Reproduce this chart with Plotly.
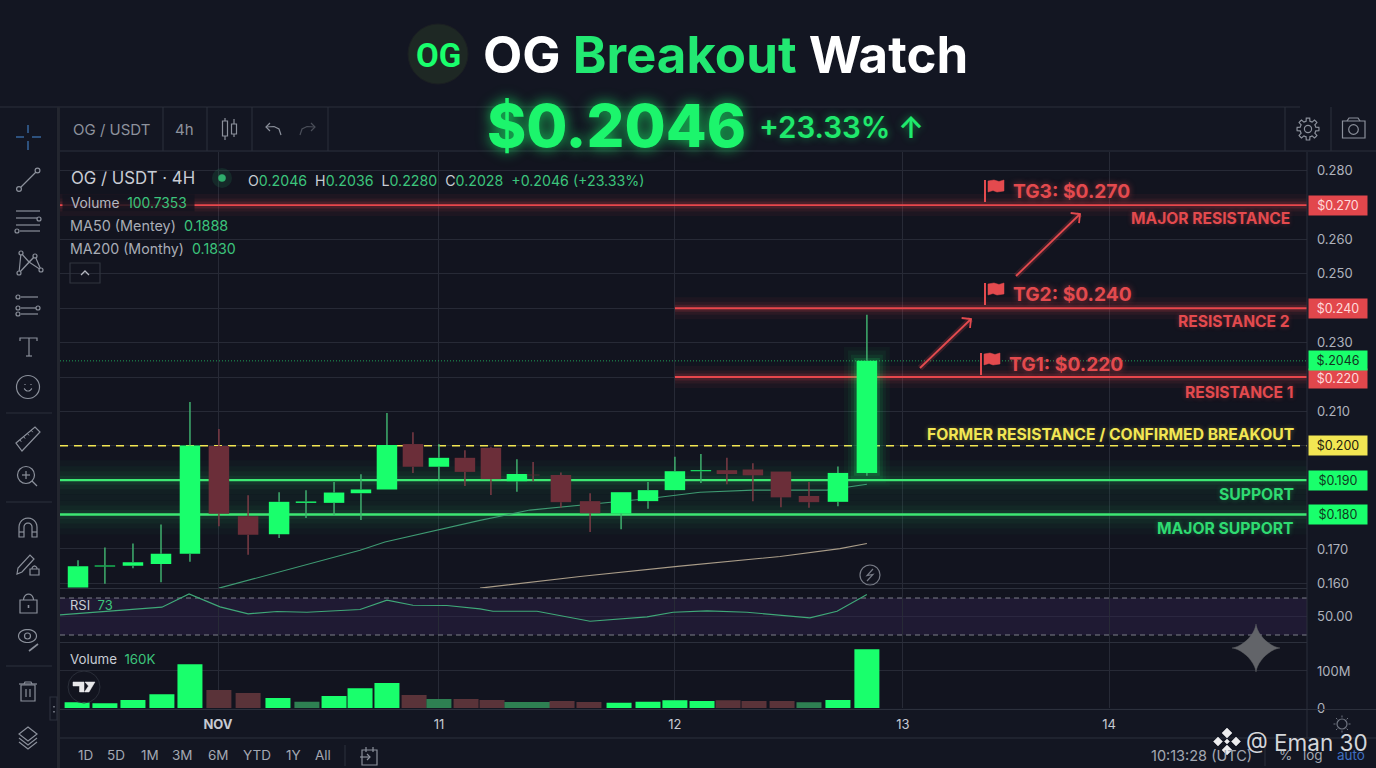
import math
import plotly.graph_objects as go

# ---------- data ----------
candle_time = [-.614,-.496,-.373,-.250,-.123,.004,.132,.268,.386,.509,.627,.741,.855,.969,1.083,1.197,1.311,1.382,1.504,1.632,1.768,1.886,2.004,2.118,2.232,2.346,2.469,2.592,2.719,2.846]
candle_open = [.15875,.1649,.1651,.1656,.1686,.1999,.1795,.1743,.1834,.1834,.1862,.1873,.2005,.1939,.1965,.1994,.1897,.1916,.1915,.1839,.1803,.1839,.1871,.1926,.1929,.1931,.1925,.1854,.1837,.1921]
candle_close = [.16495,.1652,.1661,.1686,.2001,.1802,.1741,.1837,.1838,.1864,.1873,.2002,.1939,.1965,.1924,.1903,.1918,.1914,.1836,.1804,.1865,.1871,.1926,.1929,.1918,.1914,.1850,.1836,.1921,.2247]
candle_high = [.1667,.1704,.1716,.1771,.2127,.2049,.1856,.1865,.1871,.1895,.1917,.2095,.2039,.2005,.1987,.1997,.1961,.1953,.1922,.1862,.1865,.1895,.1968,.1976,.1965,.1949,.1925,.1895,.1940,.2381]
candle_low = [.15875,.1599,.1644,.1603,.1663,.1766,.1683,.1732,.1790,.1798,.1784,.1873,.1921,.1898,.1883,.1857,.1866,.1897,.1820,.1749,.1757,.1817,.1871,.1892,.1888,.1839,.1821,.1820,.1824,.1913]

ma50_time = [.004,.623,.732,1.149,1.368,1.632,1.882,2.114,2.346,2.671,2.846]
ma50_value = [.1586,.1696,.1720,.1783,.1813,.1829,.1846,.1865,.1871,.1871,.1888]
ma200_time = [1.149,1.588,2.026,2.465,2.728,2.846]
ma200_value = [.1586,.1620,.1650,.1678,.1701,.1716]

rsi_time = [-.693,-.443,-.246,-.127,.009,.132,.259,.390,.623,.741,.855,1.004,1.149,1.206,1.399,1.632,1.882,1.996,2.145,2.320,2.596,2.715,2.846]
rsi_value = [51.8,56.5,60.1,74.5,60.5,52.9,55.4,54.6,57.6,67.6,62.2,61.9,58.3,55.7,55.7,44.9,49.7,54.6,56.2,54.6,48.6,55.7,73.8]

volume_time = [-.618,-.496,-.373,-.246,-.123,.004,.132,.263,.390,.509,.623,.741,.860,.969,1.088,1.202,1.311,1.412,1.509,1.627,1.759,1.886,2.004,2.123,2.237,2.351,2.474,2.592,2.719,2.846]
volume_m = [15.4,12.7,21.6,37,118,48.6,40.5,27,17,32.4,53.2,67.6,35,24.3,24.3,21.6,16.2,16.2,18.9,16.2,14.3,17,20.8,18.9,20.8,18.9,18.9,15.4,21.6,158.6]
volume_state = list("ggggg" "rrgdg" "ggrdr" "rddrr" "gggg" "rrr" "dgg")[:30]

price_ticks = [.28,.27,.26,.25,.24,.23,.22,.21,.20,.19,.18,.17,.16]
price_tick_text = ["0.280","","0.260","0.250","","0.230","","0.210","","","","0.170","0.160"]
date_ticks = [0,.969,2.004,3.004,3.908]
date_labels = ["<b>NOV</b>","11","12","13","14"]
range_buttons = ["1D","5D","1M","3M","6M","YTD","1Y","All"]

res_levels = [.270,.240,.220]
res_start = [-.693,2.004,2.004]
res_names = ["MAJOR RESISTANCE","RESISTANCE 2","RESISTANCE 1"]
sup_levels = [.190,.180]
sup_names = ["SUPPORT","MAJOR SUPPORT"]
breakout_level = .200
last_level = .2247
targets = ["TG3: $0.270","TG2: $0.240","TG1: $0.220"]

# ---------- palette / page geometry ----------
W, H = 1376, 768
BG = "#131622"; PLOT = "#12141F"; GRID = "#272A36"; FRAME = "#2C303C"; IC = "#8B909B"
GREEN = "#19FF6C"; LINEG = "#3DE873"; TXTG = "#2FDB72"; RED = "#E8474C"; TXTR = "#E34A4E"; REDBODY = "#6B2E39"
YEL = "#F2E653"; FONT = "Inter"
X0 = (60 - 218) / 228; X1 = (1307 - 218) / 228
def price_at(y): return .28 - (y - 170.7) / 3438.5
Px = lambda x: x / W
Py = lambda y: 1 - y / H

shapes, notes = [], []
def path(pts, color=IC, width=1.2, close=False, fill=None, layer="above"):
    d = "M " + " L ".join(f"{Px(x):.5f} {Py(y):.5f}" for x, y in pts) + (" Z" if close else "")
    shapes.append(dict(type="path", path=d, xref="paper", yref="paper", layer=layer,
                       line=dict(color=color, width=width), fillcolor=fill or "rgba(0,0,0,0)"))
def arc(cx, cy, rx, ry=None, a0=0, a1=360, n=36):
    ry = rx if ry is None else ry
    return [(cx + rx * math.cos(math.radians(a0 + (a1 - a0) * i / n)),
             cy + ry * math.sin(math.radians(a0 + (a1 - a0) * i / n))) for i in range(n + 1)]
def ring(cx, cy, r, color=IC, width=1.2, fill=None):
    shapes.append(dict(type="circle", xref="paper", yref="paper", x0=Px(cx - r), x1=Px(cx + r), y0=Py(cy + r), y1=Py(cy - r),
                       line=dict(color=color, width=width), fillcolor=fill or "rgba(0,0,0,0)", layer="above"))
def rect(x0, y0, x1, y1, **k):
    path([(x0, y0), (x1, y0), (x1, y1), (x0, y1)], close=True, **k)
def text(x, y, s, size=13, color="#C8CCD4", anchor="left", weight=None, shadow=None, family=None, bg=None):
    f = dict(family=family or FONT, size=size, color=color)
    if weight: f["weight"] = weight
    if shadow: f["shadow"] = shadow
    a = dict(x=Px(x), y=Py(y), xref="paper", yref="paper", text=s, showarrow=False, xanchor=anchor, yanchor="middle",
             font=f, borderpad=0)
    if bg: a["bgcolor"] = bg
    notes.append(a)

# ---------- traces ----------
fig = go.Figure()
Y_MAIN, Y_TOP = "y", "y4"
def line(x, y, color, width, axis="y", dash=None):
    fig.add_trace(go.Scatter(x=x, y=y, mode="lines", yaxis=axis, xaxis="x", hoverinfo="skip",
                             line=dict(color=color, width=width, dash=dash), connectgaps=False))

# support/resistance levels with soft glows
for lvl in sup_levels:
    for w, a in ((40, .026), (28, .034), (18, .045), (9, .07)):
        line([X0, X1], [lvl, lvl], f"rgba(40,230,110,{a})", w)
for lvl, start in zip(res_levels, res_start):
    for w, a in ((22, .05), (13, .08), (7, .16)):
        line([start, X1], [lvl, lvl], f"rgba(232,71,76,{a})", w)
line([X0, X1], [last_level, last_level], "#1E9E58", 1, dash="1px,2px")
line([X0, X1], [breakout_level, breakout_level], YEL, 1.6, dash="8px,6px")
for lvl in sup_levels:
    line([X0, X1], [lvl, lvl], LINEG, 2.4)
for lvl, start in zip(res_levels, res_start):
    line([start, X1], [lvl, lvl], RED, 1.9)
line(ma50_time, ma50_value, "#3E9A72", 1.1)
line(ma200_time, ma200_value, "#A99C88", 1.1)

# candles drawn on an overlay axis so they sit above the level lines
top = [max(o, c) for o, c in zip(candle_open, candle_close)]
bot = [min(o, c) for o, c in zip(candle_open, candle_close)]
up = [c >= o for o, c in zip(candle_open, candle_close)]
body_w = [(13 if i == 17 else 20.5) / 228 for i in range(len(candle_time))]
for w, a, pad in ((46, .035, .0040), (38, .05, .0030), (32, .08, .0018), (26, .14, .0008)):
    fig.add_trace(go.Bar(x=[candle_time[-1]], base=[bot[-1] - pad], y=[top[-1] - bot[-1] + 2 * pad], width=[w / 228],
                         yaxis=Y_TOP, xaxis="x", marker=dict(color=f"rgba(25,255,108,{a})", line_width=0), hoverinfo="skip"))
fig.add_trace(go.Bar(x=candle_time, base=bot, y=[t - b for t, b in zip(top, bot)], width=body_w, yaxis=Y_TOP, xaxis="x",
                     marker=dict(color=[GREEN if u else REDBODY for u in up], line_width=0), hoverinfo="skip"))
for flag, color in ((True, "#3FAF6E"), (False, "#7C3B45")):
    xs, ys = [], []
    for t, h, l, a, b, u in zip(candle_time, candle_high, candle_low, top, bot, up):
        if u == flag:
            xs += [t, t, None, t, t, None]; ys += [h, a, None, b, l, None]
    line(xs, ys, color, 1.5, axis=Y_TOP)

# RSI
line([X0, X1], [70, 70], "#7C7F89", 1, axis="y2", dash="5px,4px")
line([X0, X1], [30, 30], "#7C7F89", 1, axis="y2", dash="5px,4px")
line(rsi_time, rsi_value, "#3FA878", 1.2, axis="y2")

# volume
vol_color = {"g": GREEN, "r": "#5A3339", "d": "#2E8052"}
fig.add_trace(go.Bar(x=volume_time, y=volume_m, width=[25 / 228] * len(volume_m), yaxis="y3", xaxis="x",
                     marker=dict(color=[vol_color[s] for s in volume_state], line_width=0), hoverinfo="skip"))

# ---------- chrome ----------
shapes.append(dict(type="rect", xref="x", yref="y2", x0=X0, x1=X1, y0=30, y1=70, line_width=0, fillcolor="#1F1A33", layer="below"))
for pts in ([(0, 107), (1300, 107)], [(60, 151), (1376, 151)], [(1307, 152), (1307, 738)], [(60, 588.5), (1307, 588.5)],
            [(60, 642.5), (1307, 642.5)], [(60, 709.5), (1376, 709.5)], [(60, 738), (1376, 738)], [(6, 413), (52, 413)],
            [(6, 502), (52, 502)], [(6, 666), (52, 666)], [(163, 107), (163, 151)], [(207, 107), (207, 151)],
            [(252, 107), (252, 151)], [(328, 107), (328, 151)], [(1285, 107), (1285, 151)], [(1331, 107), (1331, 151)],
            [(345, 745), (345, 766)], [(1265, 745), (1265, 766)]):
    path(pts, FRAME, 1)
path([(58.5, 107), (58.5, 768)], "#23262F", 3)

# header
ring(438, 54, 30, "#1B1F22", 1, "#1E2824")
text(438, 55, "OG", 33, GREEN, "center", 700, family="Roboto")
text(725.5, 54, f'OG <span style="color:#22E872">Breakout</span> Watch', 51, "#FFFFFF", "center", 700)
text(616.5, 125, "$0.2046", 59.5, "#1CF56C", "center", 800, shadow="0 0 14px rgba(25,255,108,.75)")
text(758, 127, "+23.33% ↑", 29.5, "#1FE96C", "left", 600, shadow="0 0 8px rgba(25,255,108,.45)")

# toolbar
text(72, 129, "OG / USDT", 15, "#8D929D")
text(185, 129, "4h", 15, "#8D929D", "center")
for xc, t, b, hi, lo in ((225, 121, 136, 118, 140), (234, 124, 134, 119, 137)):
    rect(xc - 2.5, t, xc + 2.5, b, color=IC)
    path([(xc, hi), (xc, t)]); path([(xc, b), (xc, lo)])
path([(281, 135), (279, 129), (274, 126.5), (266, 127)], IC)
path([(270, 123), (266, 127), (270, 131)], IC)
path([(300, 135), (302, 129), (307, 126.5), (315, 127)], "#4A4E59")
path([(311, 123), (315, 127), (311, 131)], "#4A4E59")
gear = []
for i in range(8):
    a = i * 45
    gear += arc(1308, 129, 11, 11, a - 9, a + 9, 2) + arc(1308, 129, 8, 8, a + 14, a + 31, 2)
path(gear, IC, close=True); ring(1308, 129, 3.6)
rect(1342.5, 121, 1365, 138, color=IC)
path([(1347, 121), (1349, 118), (1358, 118), (1360, 121)]); ring(1353.5, 129.5, 4.8)

# left rail
B = "#3A6CA6"
for seg in ([(28, 125), (28, 133)], [(28, 141), (28, 150)], [(16, 137), (24, 137)], [(32, 137), (41, 137)]):
    path(seg, B, 1.4)
path([(21, 187), (36, 172)]); ring(19, 189, 2.4); ring(37.5, 170.5, 2.4)
for y, x0, x1 in ((211, 16, 40), (218, 16, 37), (225, 16, 40), (231, 20, 40)):
    path([(x0, y), (x1, y)])
ring(39, 219, 2); ring(17, 231, 2)
path([(19, 273), (21, 253), (29, 262), (35, 256), (41, 270), (29, 262), (19, 273), (35, 256)])
for c in ((19, 273), (21, 253), (35, 256), (41, 270)):
    ring(*c, 2, fill=BG)
for y, x0, x1 in ((297, 21, 38), (308, 21, 36), (314, 21, 38)):
    path([(x0, y), (x1, y)])
for c in ((18, 297), (18, 308), (38, 308), (18, 314)):
    ring(*c, 2)
path([(20, 341), (20, 338), (37, 338), (37, 341)]); path([(29, 338), (29, 356)]); path([(26, 356), (32, 356)])
ring(28, 387, 11.5); path(arc(28, 387, 4, 4, 20, 160, 8)); path([(25, 384), (25, 385)]); path([(31, 384), (31, 385)])
path([(16, 443), (35, 427), (40, 432), (22, 451)], close=True)
for i in range(1, 5):
    xa, ya = 16 + 3.8 * i, 443 - 3.2 * i
    path([(xa, ya), (xa + 1.5, ya + 2)], IC, 1)
ring(26, 475, 8.5); path([(32, 481), (37, 486)]); path([(22, 475), (30, 475)]); path([(26, 471), (26, 479)])
path(arc(28, 527, 9, 9, 180, 360, 12) + [(37, 537), (32, 537)] + arc(28, 527, 4, 4, 360, 180, 12) + [(24, 537), (19, 537)], close=True)
path([(19, 532), (24, 532)]); path([(32, 532), (37, 532)])
path([(17, 574), (18, 568), (30, 555), (34, 559), (22, 572)], close=True); rect(30, 569, 39, 575, color=IC)
path(arc(34.5, 569, 2.6, 3, 180, 360, 6))
rect(20, 600, 37, 613, color=IC); path(arc(28.5, 600, 5, 6, 180, 360, 10)); path([(28.5, 605), (28.5, 608)], IC, 1.6)
path(arc(27.5, 636, 9, 6.5), IC); ring(27.5, 636, 3); path([(29, 651), (38, 644)], IC, 1.6)
path([(19, 684), (37, 684)]); path([(24, 684), (25, 682), (31, 682), (32, 684)]); rect(21, 685, 35, 701, color=IC)
path([(26, 689), (26, 697)]); path([(30, 689), (30, 697)])
path([(28, 727), (37, 734), (28, 741), (19, 734)], close=True)
path([(19, 738), (28, 745), (37, 738)]); path([(19, 742), (28, 749), (37, 742)])
# pane handle / TV logo
rect(50, 697, 57, 720, color="#2C303C", fill=BG); path([(54, 706), (54, 707.5)], IC, 1.4); path([(54, 711), (54, 712.5)], IC, 1.4)
ring(84, 687, 16, "#2A2E39", 1)
path([(73, 682), (84, 682), (84, 692), (79.5, 692), (79.5, 686), (73, 686)], "#E8E8EA", 0.5, True, "#E8E8EA")
path([(85, 682), (95, 682), (89, 692), (84.5, 692), (88.5, 686)], "#E8E8EA", 0.5, True, "#E8E8EA")
# lightning badge
ring(870, 575, 10, "#777B86", 1.2)
path([(873, 569), (867, 575.5), (873, 574.5), (867, 581)], "#777B86", 1.2)
# star & sun & calendar
star = [(1256 + 24 * math.cos(t) ** 3, 648 + 24 * math.sin(t) ** 3) for t in (i * 2 * math.pi / 60 for i in range(60))]
path(star, "#626469", 0.5, True, "#626469")
ring(1342, 724, 5, "#6F7480")
for i in range(8):
    a = math.radians(i * 45)
    path([(1342 + 6.5 * math.cos(a), 724 + 6.5 * math.sin(a)), (1342 + 8.5 * math.cos(a), 724 + 8.5 * math.sin(a))], "#6F7480", 1)
rect(362, 750, 377, 765, color=IC); path([(366, 747), (366, 752)]); path([(373, 747), (373, 752)])
path([(360, 757), (370, 757)]); path([(367, 754), (370, 757), (367, 760)])
# legend button
rect(70, 263, 100, 283, color="#30343F"); path([(81, 275), (85, 271), (89, 275)], "#B5B8C0", 1.3)
ring(222, 178, 10, "rgba(40,140,90,.18)", 0, "rgba(40,140,90,.18)"); ring(222, 178, 3.6, "#2FAE6C", 0.5, "#2FAE6C")
# flags and target arrows
for xf, yf, s in ((985, 180, targets[0]), (985, 283, targets[1]), (981, 353, targets[2])):
    path([(xf, yf), (xf, yf + 22)], TXTR, 2)
    path([(xf + 3, yf + 1), (xf + 9, yf), (xf + 14, yf + 1.5), (xf + 19, yf), (xf + 19, yf + 11), (xf + 12, yf + 12), (xf + 8, yf + 10.5), (xf + 3, yf + 12)],
         TXTR, 0.5, True, TXTR)
    text(xf + 27, yf + 11, s, 19.2, TXTR, "left", 700, shadow="0 0 6px rgba(232,71,76,.6)")
for p0, p1 in (((920, 368), (971, 319)), ((1016, 276), (1080, 214))):
    dx, dy = p1[0] - p0[0], p1[1] - p0[1]; n = math.hypot(dx, dy); ux, uy = dx / n, dy / n
    head = [(p1[0] - 13 * ux, p1[1] - 1), (p1[0], p1[1]), (p1[0] - 1, p1[1] + 13 * abs(uy) + 0)]
    path([p0, p1], "rgba(232,71,76,.18)", 6); path([p0, p1], TXTR, 1.8); path(head, TXTR, 1.8)

# right-hand labels
for name, y, xr in ((res_names[0], 218, 1291), (res_names[1], 321, 1291), (res_names[2], 392, 1295)):
    text(xr, y, name, 15.6, TXTR, "right", 700, shadow="0 0 5px rgba(232,71,76,.4)")
text(1295, 434, "FORMER RESISTANCE / CONFIRMED BREAKOUT", 15.7, YEL, "right", 700, shadow="0 0 5px rgba(242,230,83,.35)")
for name, y in zip(sup_names, (494, 528)):
    text(1295, y, name, 15.7, TXTG, "right", 700, shadow="0 0 5px rgba(40,230,110,.35)")
def tag(level, label, bg, fg, shift=0):
    notes.append(dict(x=Px(1307.5), y=level, xref="paper", yref="y", yshift=shift, text=label, showarrow=False, xanchor="left",
                      yanchor="middle", width=58, height=19, align="center", valign="middle", bgcolor=bg, borderpad=0,
                      font=dict(family=FONT, size=12.5, color=fg)))
for lvl, shift in zip(res_levels, (0, 0, -1)):
    tag(lvl, f"${lvl:.3f}", "#E2474C", "#FFDADA", shift)
tag(last_level, "$.2046", GREEN, "#11351F")
tag(breakout_level, f"${breakout_level:.3f}", YEL, "#23210E", 0)
for lvl in sup_levels:
    tag(lvl, f"${lvl:.3f}", GREEN, "#0F3A20", 0)

# chart legends
text(69.5, 178, "OG / USDT · 4H", 16.8, "#C9CDD5")
G = '<span style="color:#3CC47C">'; E = "</span>"
text(247, 180, f"O{G}0.2046{E}  H{G}0.2036{E}  L{G}0.2280{E}  C{G}0.2028{E}  {G}+0.2046 (+23.33%){E}", 14.2, "#C9CDD5")
text(62, 203, f"&nbsp;&nbsp;Volume  {G}100.7353{E}&nbsp;&nbsp;", 13.8, "#B4B8C1", bg="rgba(18,20,31,.82)")
text(69, 225, f"MA50 (Mentey)  {G}0.1888{E}", 14.4, "#A9ADB6")
text(69, 248, f"MA200 (Monthy)  {G}0.1830{E}", 14.2, "#A9ADB6")
text(69, 605, f"RSI  {G}73{E}", 13, "#C9CDD5")
text(69, 659, f"Volume  {G}160K{E}", 13.3, "#C9CDD5")

# bottom bar
for s, xc in zip(range_buttons, (85, 116, 150, 183, 218, 257, 293, 323)):
    text(xc, 755, s, 13.5, "#A3A8B2", "center")
text(1201, 755, "10:13:28 (UTC)", 14.5, "#A3A8B2", "center")
text(1285, 755, "%", 13.5, "#A3A8B2", "center")
text(1313, 755, "log", 13.5, "#A3A8B2", "center")
text(1351, 755, "auto", 13.5, "#3F6FC0", "center")
# watermark
for cx, cy, r in ((1227, 733, 5), (1218, 741.5, 4.5), (1236, 741.5, 4.5), (1227, 750, 5), (1227, 741.5, 2.5)):
    path([(cx, cy - r), (cx + r, cy), (cx, cy + r), (cx - r, cy)], "#EDEDEF", 0.5, True, "#EDEDEF")
text(1245, 742, "@ Eman 30", 22.5, "#D4D6DA")

axis_font = dict(family=FONT, size=13, color="#AEB2BC")
dom = lambda top, bottom: [Py(bottom), Py(top)]
main_range = [price_at(588.5), price_at(152)]
fig.update_layout(
    width=W, height=H, margin=dict(l=0, r=0, t=0, b=0, pad=0, autoexpand=False), autosize=False, showlegend=False, hovermode=False, barmode="overlay",
    paper_bgcolor=BG, plot_bgcolor=PLOT, shapes=shapes, annotations=notes, font=dict(family=FONT),
    xaxis=dict(domain=[Px(60), Px(1307)], range=[X0, X1], anchor="y3", tickmode="array", tickvals=date_ticks, ticktext=date_labels,
               showgrid=True, gridcolor=GRID, gridwidth=1, zeroline=False, showline=False, ticks="", ticklabelstandoff=7,
               tickfont=dict(family=FONT, size=13, color="#C6CAD2")),
    yaxis=dict(domain=dom(152, 588.5), range=main_range, side="right", anchor="x", tickmode="array", tickvals=price_ticks,
               ticktext=price_tick_text, gridcolor=GRID, zeroline=False, showline=False, ticks="", ticklabelstandoff=9, tickfont=axis_font),
    yaxis4=dict(domain=dom(152, 588.5), range=main_range, overlaying="y", side="right", anchor="x", visible=False, showgrid=False, zeroline=False),
    yaxis2=dict(domain=dom(588.5, 642.5), range=[21.9, 80.3], side="right", anchor="x", tickmode="array", tickvals=[50],
                ticktext=["50.00"], gridcolor="#2B2740", zeroline=False, showline=False, ticks="", ticklabelstandoff=9, tickfont=axis_font),
    yaxis3=dict(domain=dom(642.5, 708), range=[0, 177], side="right", anchor="x", tickmode="array", tickvals=[0, 100],
                ticktext=["0", "100M"], gridcolor=GRID, zeroline=False, showline=False, ticks="", ticklabelstandoff=9, tickfont=axis_font),
)
fig.write_html("out.html", config=dict(displayModeBar=False, staticPlot=True),
               post_script="document.body.style.margin='0';document.body.style.background='%s';" % BG)
